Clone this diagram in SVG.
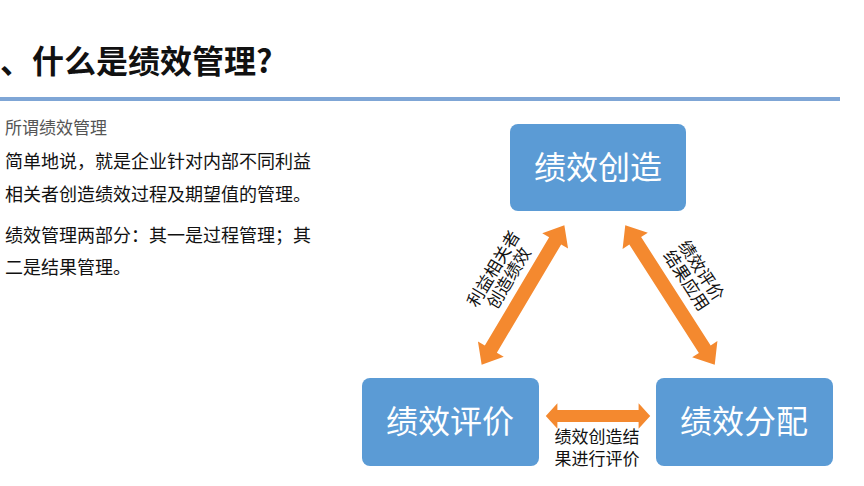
<svg xmlns="http://www.w3.org/2000/svg" width="864" height="486" viewBox="0 0 864 486">
<style>
.t{font-family:"Noto Sans CJK SC",sans-serif}
.box{fill:#5b9bd5}
.bt{font-family:"Noto Sans CJK SC",sans-serif;font-size:32px;fill:#fff;text-anchor:middle}
.lb{font-family:"Noto Sans CJK SC",sans-serif;font-size:17px;fill:#111;text-anchor:middle}
.arr{fill:#f4892f}
</style>
<defs>
<path id="da" d="M-90,0 L-70,-15 L-70,-7 L70,-7 L70,-15 L90,0 L70,15 L70,7 L-70,7 L-70,15 Z"/>
</defs>
<rect width="864" height="486" fill="#fff"/>
<text class="t" x="0" y="73" font-size="32" font-weight="bold" fill="#111">、什么是绩效管理?</text>
<rect x="0" y="97" width="840" height="4" fill="#7fa6d6"/>
<text class="t" x="5" y="134" font-size="17" fill="#555">所谓绩效管理</text>
<text class="t" x="5" y="168" font-size="18" fill="#111">简单地说，就是企业针对内部不同利益</text>
<text class="t" x="5" y="201" font-size="18" fill="#111">相关者创造绩效过程及期望值的管理。</text>
<text class="t" x="5" y="242" font-size="18" fill="#111">绩效管理两部分：其一是过程管理；其</text>
<text class="t" x="5" y="274" font-size="18" fill="#111">二是结果管理。</text>
<g id="connectors" class="arr">
<use href="#da" transform="translate(523,295) rotate(120.7) scale(0.9,1)"/>
<use href="#da" transform="translate(670,295) rotate(57.3) scale(0.92,1)"/>
<use href="#da" transform="translate(598,416) scale(0.58,0.85)"/>
</g>
<g id="n1"><rect class="box" x="510" y="124" width="176" height="87" rx="8"/><text class="bt" x="598" y="179">绩效创造</text></g>
<g id="n2"><rect class="box" x="362" y="378" width="177" height="88" rx="8"/><text class="bt" x="450" y="433">绩效评价</text></g>
<g id="n3"><rect class="box" x="656" y="378" width="177" height="88" rx="8"/><text class="bt" x="744" y="433">绩效分配</text></g>
<g id="labels">
<g transform="translate(502,274) rotate(-59)"><text class="lb" y="-4">利益相关者</text><text class="lb" y="14">创造绩效</text></g>
<g transform="translate(693,276) rotate(57)"><text class="lb" y="-4">绩效评价</text><text class="lb" y="14">结果应用</text></g>
<text class="lb" x="597" y="443" font-size="14">绩效创造结</text>
<text class="lb" x="597" y="465" font-size="14">果进行评价</text>
</g>
</svg>
